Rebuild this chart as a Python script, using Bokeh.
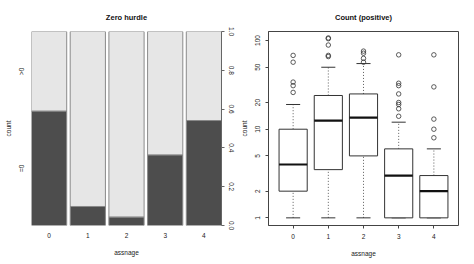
import math
from bokeh.plotting import figure
from bokeh.layouts import row
from bokeh.models import Range1d, FixedTicker, LinearAxis, LogAxis
from bokeh.embed import file_html
from bokeh.resources import INLINE

# ---------------- data ----------------
categories = ["0", "1", "2", "3", "4"]
# left: zero hurdle proportions (share of count == 0)
zero_frac = [0.589, 0.098, 0.043, 0.363, 0.541]
hurdle_labels = ["=0", ">0"]

# right: boxplot stats of positive counts
q1 = [2, 3.5, 5, 1, 1]
med = [4, 12.5, 13.5, 3, 2]
q3 = [10, 24, 25, 6, 3]
whisk_lo = [1, 1, 1, 1, 1]
whisk_hi = [19, 50, 55, 12, 6]
outliers = [
    [26, 31, 34, 57, 68],
    [66, 68, 89, 105, 107],
    [57, 63, 72, 76],
    [14, 17, 19, 20, 25, 31, 33, 69],
    [8, 10, 13, 30, 69],
]
log_ticks = [1, 2, 5, 10, 20, 50, 100]

FONT = "Liberation Sans"
LBL = "6.5px"
TXT = "#222222"

xs = list(range(len(categories)))


def style_title(p):
    p.title.align = "center"
    p.title.vertical_align = "middle"
    p.title.text_font = FONT
    p.title.text_font_size = "7.5px"
    p.title.text_font_style = "bold"
    p.title.text_color = "#111111"
    p.title.standoff = 18


# ---------------- left: spineplot ----------------
p1 = figure(width=237, height=264, output_backend="svg", toolbar_location=None,
            x_range=Range1d(-0.455, 4.455), y_range=Range1d(0, 1),
            min_border_left=31, min_border_right=16, min_border_top=31, min_border_bottom=38,
            title="Zero hurdle", x_axis_location=None, y_axis_location=None)
p1.outline_line_color = None
p1.grid.visible = False
style_title(p1)

ones = [1] * len(xs)
p1.vbar(x=xs, bottom=zero_frac, top=ones, width=0.91,
        fill_color="#e6e6e6", line_color="#8a8a8a", line_width=1)
p1.vbar(x=xs, bottom=[0] * len(xs), top=zero_frac, width=0.91,
        fill_color="#4d4d4d", line_color="#8a8a8a", line_width=1)

# left axis: category labels at segment middles of first bar
mid_zero = zero_frac[0] / 2
mid_pos = (zero_frac[0] + 1) / 2
ax_l = LinearAxis(ticker=FixedTicker(ticks=[mid_zero, mid_pos]),
                  major_label_overrides={mid_zero: hurdle_labels[0], mid_pos: hurdle_labels[1]},
                  axis_label="count")
ax_r = LinearAxis(ticker=FixedTicker(ticks=[0, 0.2, 0.4, 0.6, 0.8, 1.0]),
                  major_label_overrides={0: "0.0", 0.2: "0.2", 0.4: "0.4", 0.6: "0.6", 0.8: "0.8", 1.0: "1.0"})
ax_b = LinearAxis(ticker=FixedTicker(ticks=xs),
                  major_label_overrides={i: c for i, c in enumerate(categories)},
                  axis_label="assnage")
for ax in (ax_l, ax_r, ax_b):
    ax.major_label_text_font = FONT
    ax.major_label_text_font_size = LBL
    ax.major_label_text_color = TXT
    ax.axis_label_text_font = FONT
    ax.axis_label_text_font_size = LBL
    ax.axis_label_text_font_style = "normal"
    ax.axis_label_text_color = TXT
    ax.minor_tick_line_color = None
ax_l.axis_line_color = None
ax_l.major_tick_line_color = None
ax_l.major_tick_out = 0
ax_l.major_tick_in = 0
ax_l.major_label_orientation = "vertical"
ax_l.major_label_standoff = 6
ax_l.axis_label_standoff = 4
ax_r.axis_line_color = "#666666"
ax_r.major_tick_line_color = "#666666"
ax_r.major_tick_out = 3
ax_r.major_tick_in = 0
ax_r.major_label_orientation = "vertical"
ax_r.major_label_standoff = 4
ax_b.axis_line_color = None
ax_b.major_tick_line_color = None
ax_b.major_tick_out = 0
ax_b.major_tick_in = 0
ax_b.major_label_standoff = 7
ax_b.axis_label_standoff = 8
p1.add_layout(ax_l, "left")
p1.add_layout(ax_r, "right")
p1.add_layout(ax_b, "below")

# ---------------- right: boxplot (log y) ----------------
p2 = figure(width=237, height=264, output_backend="svg", toolbar_location=None,
            x_range=Range1d(-0.7, 4.7), y_range=Range1d(0.82, 126.5), y_axis_type="log",
            min_border_left=31, min_border_right=16, min_border_top=31, min_border_bottom=39,
            title="Count (positive)", x_axis_location=None, y_axis_location=None)
p2.outline_line_color = "#444444"
p2.outline_line_width = 1
p2.grid.visible = False
style_title(p2)

bw = 0.8
cw = 0.2
# whiskers
p2.segment(x0=xs, y0=q3, x1=xs, y1=whisk_hi, line_color="#333333", line_width=0.8, line_dash="1 2")
p2.segment(x0=xs, y0=whisk_lo, x1=xs, y1=q1, line_color="#333333", line_width=0.8, line_dash="1 2")
# caps
p2.segment(x0=[x - cw for x in xs], y0=whisk_hi, x1=[x + cw for x in xs], y1=whisk_hi,
           line_color="#333333", line_width=1)
p2.segment(x0=[x - cw for x in xs], y0=whisk_lo, x1=[x + cw for x in xs], y1=whisk_lo,
           line_color="#333333", line_width=1)
# boxes
p2.quad(left=[x - bw / 2 for x in xs], right=[x + bw / 2 for x in xs], bottom=q1, top=q3,
        fill_color="white", line_color="#333333", line_width=1)
# medians
p2.segment(x0=[x - bw / 2 for x in xs], y0=med, x1=[x + bw / 2 for x in xs], y1=med,
           line_color="#111111", line_width=2.2)
# outliers
ox, oy = [], []
for i, vals in enumerate(outliers):
    for v in vals:
        ox.append(i)
        oy.append(v)
p2.scatter(x=ox, y=oy, marker="circle", size=4.5, fill_color=None, line_color="#333333", line_width=0.8)

ay = LogAxis(ticker=FixedTicker(ticks=log_ticks),
             major_label_overrides={t: str(t) for t in log_ticks}, axis_label="count")
ax2 = LinearAxis(ticker=FixedTicker(ticks=xs),
                 major_label_overrides={i: c for i, c in enumerate(categories)},
                 axis_label="assnage")
for ax in (ay, ax2):
    ax.major_label_text_font = FONT
    ax.major_label_text_font_size = LBL
    ax.major_label_text_color = TXT
    ax.axis_label_text_font = FONT
    ax.axis_label_text_font_size = LBL
    ax.axis_label_text_font_style = "normal"
    ax.axis_label_text_color = TXT
    ax.minor_tick_line_color = None
    ax.axis_line_color = "#444444"
    ax.major_tick_line_color = "#444444"
    ax.major_tick_out = 3
    ax.major_tick_in = 0
ay.major_label_orientation = "vertical"
ay.major_label_standoff = 5
ay.axis_label_standoff = 5
ax2.axis_line_color = None
ax2.major_label_standoff = 5
ax2.axis_label_standoff = 8
p2.add_layout(ay, "left")
p2.add_layout(ax2, "below")

layout = row(p1, p2, spacing=0)
open("out.html", "w").write(file_html(layout, INLINE))
